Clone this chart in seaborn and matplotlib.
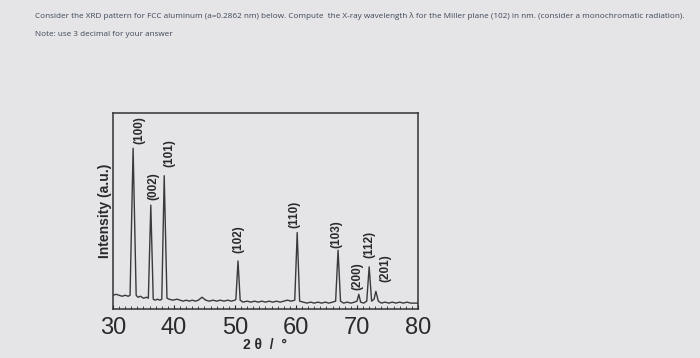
import matplotlib
matplotlib.use('Agg')
import matplotlib.pyplot as plt
import pandas as pd
import seaborn as sns

# XRD profile (2theta in degrees, intensity in a.u., 0-100 = axis height)
two_theta = [30.0, 30.5, 31.0, 31.5, 32.0, 32.5, 32.8, 33.3, 33.8, 34.1, 34.5, 35.0, 35.5,
             35.8, 36.2, 36.6, 36.9, 37.3, 37.7, 38.0, 38.4, 38.85, 39.2, 39.8, 40.5, 41.0,
             41.5, 42.0, 42.5, 43.0, 43.5, 44.0, 44.6, 45.2, 45.8, 46.4, 47.0, 47.6, 48.2,
             48.8, 49.4, 50.0, 50.15, 50.5, 50.85, 51.3, 52.0, 52.6, 53.2, 53.8, 54.4, 55.0,
             55.6, 56.2, 56.8, 57.4, 58.0, 58.6, 59.2, 59.8, 60.2, 60.6, 61.2, 61.8, 62.4,
             63.0, 63.6, 64.2, 64.8, 65.4, 66.0, 66.5, 66.9, 67.3, 67.8, 68.4, 69.0, 69.6,
             70.0, 70.3, 70.6, 71.1, 71.6, 72.0, 72.4, 72.8, 73.1, 73.5, 74.0, 74.6, 75.2,
             75.8, 76.4, 77.0, 77.6, 78.2, 78.8, 79.4, 80.0]
intensity = [7.0, 7.5, 7.0, 6.5, 7.0, 6.5, 7.0, 82.0, 7.0, 6.0, 6.5, 5.5, 6.0,
             5.5, 53.0, 5.0, 4.5, 5.0, 4.5, 5.0, 68.0, 5.5, 5.0, 4.5, 5.0, 4.5,
             4.0, 4.5, 4.0, 4.5, 4.0, 4.5, 6.0, 4.5, 4.0, 4.5, 4.0, 4.5, 4.0,
             4.5, 4.0, 4.5, 5.0, 24.5, 4.5, 3.5, 4.0, 3.5, 4.0, 3.5, 4.0, 3.5,
             4.0, 3.5, 4.0, 3.5, 4.0, 4.5, 4.0, 4.5, 39.0, 4.0, 3.5, 3.0, 3.5,
             3.0, 3.5, 3.0, 3.5, 3.0, 3.5, 4.0, 30.0, 4.0, 3.0, 3.5, 3.0, 3.5,
             4.0, 7.5, 3.5, 3.0, 4.0, 21.5, 4.0, 5.0, 9.0, 4.0, 3.0, 3.5, 3.0,
             3.5, 3.0, 3.5, 3.0, 3.5, 3.0, 3.0, 3.0]

# Miller index labels and where they sit
peak_labels = ['(100)', '(002)', '(101)', '(102)', '(110)', '(103)', '(200)', '(112)', '(201)']
label_x = [34.3, 36.6, 39.3, 50.5, 59.8, 66.7, 70.0, 72.0, 74.6]
label_y = [84.0, 55.6, 72.4, 28.6, 41.3, 31.0, 9.7, 26.0, 13.8]

x_ticks = [30, 40, 50, 60, 70, 80]

question = ('Consider the XRD pattern for FCC aluminum (a=0.2862 nm) below. Compute  the X-ray '
            'wavelength \u03bb for the Miller plane (102) in nm. (consider a monochromatic radiation).')
note = 'Note: use 3 decimal for your answer'

sns.set_theme(style='white')
plt.rcParams['font.family'] = ['Liberation Sans', 'DejaVu Sans']

bg = '#e5e5e7'
ink = '#2a2a2c'

df = pd.DataFrame({'two_theta': two_theta, 'intensity': intensity})

fig = plt.figure(figsize=(7, 3.58), dpi=100, facecolor=bg)
ax = fig.add_axes([0.1614, 0.1369, 0.4357, 0.5475])
ax.set_facecolor(bg)

sns.lineplot(data=df, x='two_theta', y='intensity', ax=ax, color='#3a3a3c', linewidth=1.0)

for lab, lx, ly in zip(peak_labels, label_x, label_y):
    ax.text(lx, ly, lab, rotation=90, ha='center', va='bottom', fontsize=8.5,
            fontweight='bold', color=ink)

ax.set_xlim(30, 80)
ax.set_ylim(0, 100)
ax.set_xticks(x_ticks)
ax.set_xticks(range(30, 81), minor=True)
ax.set_yticks([])
ax.tick_params(axis='x', which='major', direction='in', length=3, width=0.8, pad=6,
               labelsize=17, labelcolor=ink, bottom=True, color=ink)
ax.tick_params(axis='x', which='minor', direction='in', length=2, width=0.6, bottom=True,
               color=ink)
for sp in ax.spines.values():
    sp.set_color('#333335')
    sp.set_linewidth(1.1)

ax.set_xlabel('2 \u03b8  /  \u00b0', fontsize=10, fontweight='bold', color=ink, labelpad=-1)
ax.set_ylabel('Intensity (a.u.)', fontsize=10, fontweight='bold', color=ink, labelpad=1)

fig.text(0.05, 0.955, question, fontsize=5.9, color='#3e4656', family='Open Sans',
         va='center', ha='left')
fig.text(0.05, 0.905, note, fontsize=5.9, color='#3e4656', family='Open Sans',
         va='center', ha='left')

fig.savefig('out.png', dpi=100, facecolor=bg)
